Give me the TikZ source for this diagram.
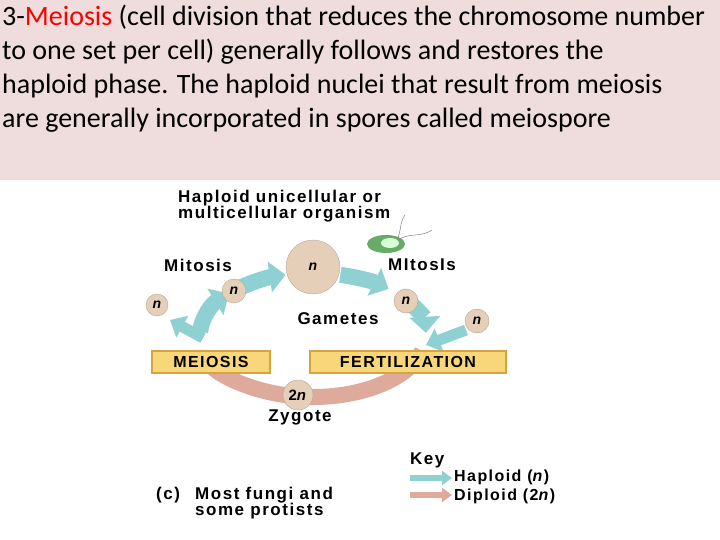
\documentclass[tikz,border=0pt]{standalone}
\usepackage{fontspec}
\setmainfont{Carlito}
\newfontfamily\arialf[LetterSpace=9]{Liberation Sans}
\usetikzlibrary{arrows.meta}
\definecolor{band}{HTML}{EFDCDC}
\definecolor{teal}{HTML}{8FD0D2}
\definecolor{rose}{HTML}{DDAA9C}
\definecolor{nfill}{HTML}{E6CFB8}
\definecolor{boxf}{HTML}{F8D77A}
\definecolor{boxd}{HTML}{D6A540}
\begin{document}
\begin{tikzpicture}[x=1pt,y=-1pt,
  lbl/.style={font=\arialf\bfseries\fontsize{17}{16}\selectfont, inner sep=0pt},
  nc/.style={circle, fill=nfill, draw=nfill!80!black, line width=0.4pt, inner sep=0pt, font=\arialf\bfseries\itshape\fontsize{14}{14}\selectfont},
  stage/.style={rectangle, fill=boxf, draw=boxd, line width=1.2pt, minimum height=22pt, inner sep=0pt, font=\arialf\bfseries\fontsize{16}{16}\selectfont},
  hap/.style={draw=teal, line width=16pt, -{Triangle[length=16pt,width=30pt]}},
  dip/.style={draw=rose, line width=16pt, -{Triangle[length=16pt,width=30pt]}}]
\useasboundingbox (0,0) rectangle (720,540);
\fill[band] (0,0) rectangle (720,180);
\node[anchor=north west, align=left, inner sep=0pt, font=\fontsize{28}{34}\selectfont] (head) at (2,5)
 {3-\textcolor{red}{Meiosis} (cell division that reduces the chromosome number\\
 to one set per cell) generally follows and restores the\\
 haploid phase. The haploid nuclei that result from meiosis\\
 are generally incorporated in spores called meiospore};
\coordinate (c) at (313,335);
\draw[dip] ([shift={(c)}]15:113 and 62) arc[start angle=15,end angle=165,x radius=113,y radius=62];
\draw[hap] ([shift={(c)}]183:113 and 62) arc[start angle=183,end angle=222,x radius=113,y radius=62];
\draw[hap] ([shift={(c)}]230:113 and 62) arc[start angle=230,end angle=256,x radius=113,y radius=62];
\draw[hap] ([shift={(c)}]284:113 and 62) arc[start angle=284,end angle=312,x radius=113,y radius=62];
\draw[hap] ([shift={(c)}]320:113 and 62) arc[start angle=320,end angle=358,x radius=113,y radius=62];
\coordinate (lo1) at (203,338); \coordinate (lo2) at (170,320);
\coordinate (ro1) at (466,330); \coordinate (ro2) at (426,345);
\draw[hap, line width=11pt, -{Triangle[length=14pt,width=24pt]}] (lo1) -- (lo2);
\draw[hap, line width=11pt, -{Triangle[length=14pt,width=24pt]}] (ro1) -- (ro2);
\node[nc, minimum size=54pt] (n0) at (313,267) {n};
\node[nc, minimum size=24pt] (n1) at (234,291) {n};
\node[nc, minimum size=24pt] (n2) at (406,301) {n};
\node[nc, minimum size=22pt] (n3) at (157,305) {n};
\node[nc, minimum size=24pt] (n4) at (477,321) {n};
\node[nc, minimum size=30pt, font=\arialf\bfseries\fontsize{15}{15}\selectfont] (z) at (298,395) {2\textit{n}};
\node[stage, minimum width=118pt] (mei) at (211,362) {MEIOSIS};
\node[stage, minimum width=196pt] (fer) at (408,362) {FERTILIZATION};
\fill[green!45!black!60] (386,244) ellipse[x radius=19, y radius=9];
\fill[white!85!green] (390,243) ellipse[x radius=9, y radius=5];
\draw[gray, line width=0.5pt] (398,238) .. controls (402,225) and (400,222) .. (405,215);
\draw[gray, line width=0.5pt] (398,240) .. controls (410,232) and (420,238) .. (432,230);
\node[lbl, anchor=west, align=left] (t1) at (178,206) {Haploid unicellular or\\multicellular organism};
\node[lbl, anchor=west] (m1) at (164,265) {Mitosis};
\node[lbl, anchor=west] (m2) at (388,265) {MItosIs};
\node[lbl] (g) at (338,319) {Gametes};
\node[lbl] (zy) at (300,417) {Zygote};
\node[lbl, anchor=west] (key) at (410,460) {Key};
\coordinate (ka1) at (410,478); \coordinate (kb1) at (452,478);
\coordinate (ka2) at (410,495); \coordinate (kb2) at (452,495);
\draw[draw=teal, line width=6pt, -{Triangle[length=10pt,width=14pt]}] (ka1) -- (kb1);
\draw[draw=rose, line width=6pt, -{Triangle[length=10pt,width=14pt]}] (ka2) -- (kb2);
\node[lbl, anchor=west, font=\arialf\bfseries\fontsize{16}{16}\selectfont] (h) at (454,477) {Haploid (\textit{n})};
\node[lbl, anchor=west, font=\arialf\bfseries\fontsize{16}{16}\selectfont] (d) at (454,496) {Diploid (2\textit{n})};
\node[lbl, anchor=west] (c2) at (156,495) {(c)};
\node[lbl, anchor=west, align=left] (cap) at (195,503) {Most fungi and\\some protists};
\end{tikzpicture}
\end{document}
